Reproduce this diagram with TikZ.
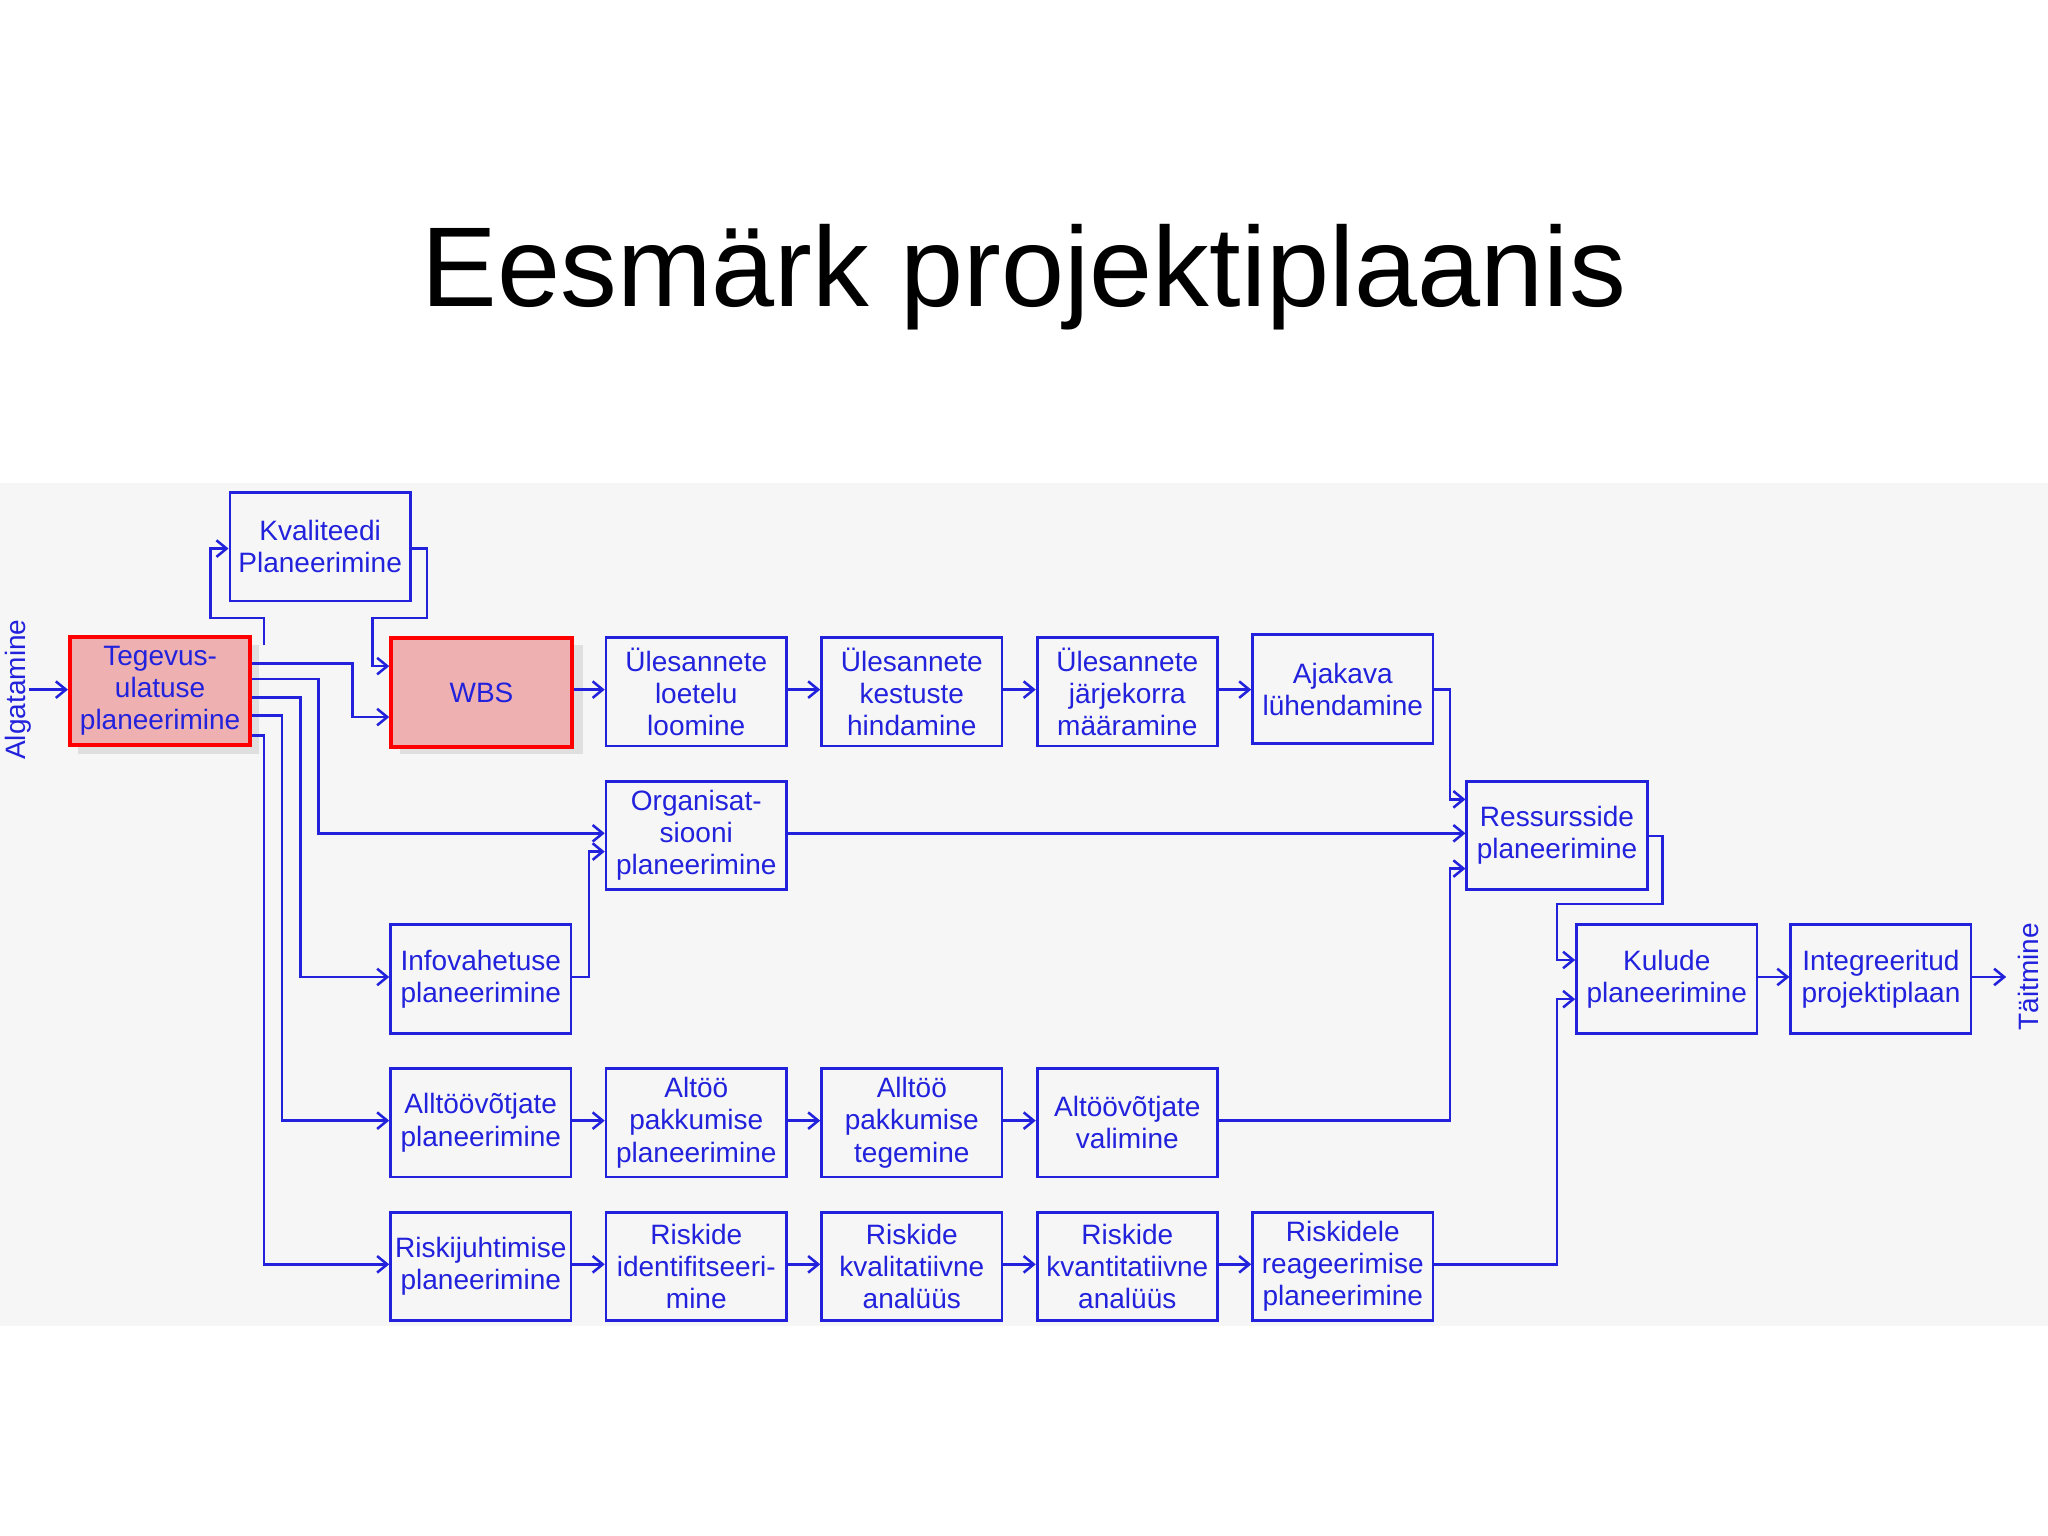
\documentclass[tikz,border=0pt]{standalone}
\usepackage{fontspec}
\setmainfont{Liberation Sans}
\usetikzlibrary{arrows.meta}
\definecolor{bl}{HTML}{2222DD}
\definecolor{pinkf}{HTML}{EEB0B0}
\begin{document}
\begin{tikzpicture}[x=0.01cm,y=-0.01cm,
  box/.style={draw=bl,line width=0.6pt,minimum width=1.38cm,minimum height=0.83cm,text=bl,font=\fontsize{6.1}{7.0}\selectfont,align=center,inner sep=0pt,anchor=north west},
  hot/.style={box,draw=red,line width=0.9pt,fill=pinkf},
  con/.style={draw=bl,line width=0.55pt,-{Straight Barb[length=2.2pt,width=3.6pt]}}]
\useasboundingbox (0,0) rectangle (1568,1176);
\fill[white] (0,0) rectangle (1568,1176);
\fill[gray!7] (0,370) rectangle (1568,1015);
\node at (784,212) {\fontsize{24.7}{28}\selectfont Eesmärk projektiplaanis};
% shadows
\fill[gray!25] (60,494) rectangle (198,577);
\fill[gray!25] (306,494) rectangle (446,577);
\node[box] (kv) at (175,376) {Kvaliteedi\\Planeerimine};
\node[hot] (teg) at (52,486) {Tegevus-\\ulatuse\\planeerimine};
\node[hot] (wbs) at (298,487) {WBS};
\node[box] (u1) at (463,487) {Ülesannete\\loetelu\\loomine};
\node[box] (u2) at (628,487) {Ülesannete\\kestuste\\hindamine};
\node[box] (u3) at (793,487) {Ülesannete\\järjekorra\\määramine};
\node[box] (aj) at (958,485) {Ajakava\\lühendamine};
\node[box] (org) at (463,597) {Organisat-\\siooni\\planeerimine};
\node[box] (res) at (1122,597) {Ressursside\\planeerimine};
\node[box] (inf) at (298,707) {Infovahetuse\\planeerimine};
\node[box] (kul) at (1206,707) {Kulude\\planeerimine};
\node[box] (int) at (1370,707) {Integreeritud\\projektiplaan};
\node[box] (a1) at (298,817) {Alltöövõtjate\\planeerimine};
\node[box] (a2) at (463,817) {Altöö\\pakkumise\\planeerimine};
\node[box] (a3) at (628,817) {Alltöö\\pakkumise\\tegemine};
\node[box] (a4) at (793,817) {Altöövõtjate\\valimine};
\node[box] (r1) at (298,927) {Riskijuhtimise\\planeerimine};
\node[box] (r2) at (463,927) {Riskide\\identifitseeri-\\mine};
\node[box] (r3) at (628,927) {Riskide\\kvalitatiivne\\analüüs};
\node[box] (r4) at (793,927) {Riskide\\kvantitatiivne\\analüüs};
\node[box] (r5) at (958,927) {Riskidele\\reageerimise\\planeerimine};
\node[rotate=90,text=bl,font=\fontsize{6.1}{7}\selectfont] (alg) at (14,528) {Algatamine};
\node[rotate=90,text=bl,font=\fontsize{6.1}{7}\selectfont] (tai) at (1553,748) {Täitmine};
\coordinate (ae) at (22,528);
\coordinate (te) at (1536,748);
\draw[con] (ae) -- (teg.west |- ae);
\draw[con] (202,494) -- (202,473) -- (161,473) -- (161,420) -- (kv.west |- 0,420);
\draw[con] (kv.east |- 0,420) -- (327,420) -- (327,473) -- (285,473) -- (285,510) -- (wbs.west |- 0,510);
\draw[con] (teg.east |- 0,508) -- (270,508) -- (270,549) -- (wbs.west |- 0,549);
\draw[con] (teg.east |- 0,520) -- (244,520) -- (244,638) -- (org.west |- 0,638);
\draw[con] (teg.east |- 0,534) -- (230,534) -- (230,748) -- (inf.west |- 0,748);
\draw[con] (teg.east |- 0,548) -- (216,548) -- (216,858) -- (a1.west |- 0,858);
\draw[con] (teg.east |- 0,563) -- (202,563) -- (202,968) -- (r1.west |- 0,968);
\draw[con] (inf.east |- 0,748) -- (451,748) -- (451,652) -- (org.west |- 0,652);
\draw[con] (wbs.east |- 0,528) -- (u1.west |- 0,528);
\draw[con] (u1.east |- 0,528) -- (u2.west |- 0,528);
\draw[con] (u2.east |- 0,528) -- (u3.west |- 0,528);
\draw[con] (u3.east |- 0,528) -- (aj.west |- 0,528);
\draw[con] (aj.east |- 0,528) -- (1110,528) -- (1110,612) -- (res.west |- 0,612);
\draw[con] (org.east |- 0,638) -- (res.west |- 0,638);
\draw[con] (a1.east |- 0,858) -- (a2.west |- 0,858);
\draw[con] (a2.east |- 0,858) -- (a3.west |- 0,858);
\draw[con] (a3.east |- 0,858) -- (a4.west |- 0,858);
\draw[con] (a4.east |- 0,858) -- (1110,858) -- (1110,665) -- (res.west |- 0,665);
\draw[con] (r1.east |- 0,968) -- (r2.west |- 0,968);
\draw[con] (r2.east |- 0,968) -- (r3.west |- 0,968);
\draw[con] (r3.east |- 0,968) -- (r4.west |- 0,968);
\draw[con] (r4.east |- 0,968) -- (r5.west |- 0,968);
\draw[con] (r5.east |- 0,968) -- (1192,968) -- (1192,765) -- (kul.west |- 0,765);
\draw[con] (res.east |- 0,640) -- (1273,640) -- (1273,692) -- (1192,692) -- (1192,735) -- (kul.west |- 0,735);
\draw[con] (kul.east |- 0,748) -- (int.west |- 0,748);
\draw[con] (int.east |- 0,748) -- (te);
\end{tikzpicture}
\end{document}
